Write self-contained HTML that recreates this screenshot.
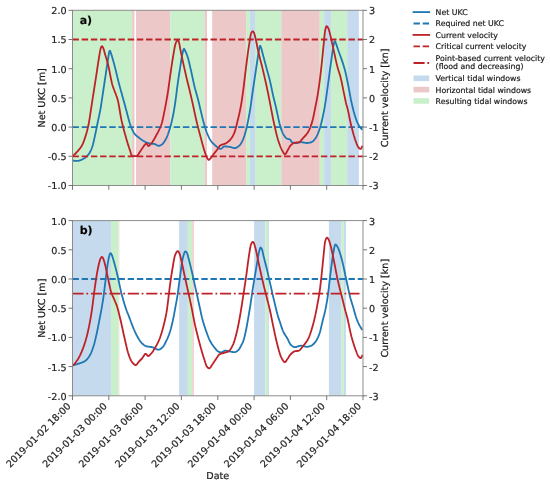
<!DOCTYPE html>
<html><head><meta charset="utf-8"><title>Tidal windows</title>
<style>html,body{margin:0;padding:0;background:#fff}svg{display:block}</style></head>
<body>
<svg width="550" height="486" viewBox="0 0 550 486" font-family='"DejaVu Sans","Liberation Sans",sans-serif' font-size="9.6" fill="#1c1c1c" text-rendering="geometricPrecision">
<style>text{stroke:#1c1c1c;stroke-width:0.2px}</style>
<rect width="550" height="486" fill="#fff"/>
<rect x="72.5" y="10.3" width="59.6" height="175.2" fill="#c9f0ca"/>
<rect x="132.1" y="10.3" width="2.3" height="175.2" fill="#ecc8c8"/>
<rect x="136.0" y="10.3" width="34.3" height="175.2" fill="#ecc8c8"/>
<rect x="170.3" y="10.3" width="34.2" height="175.2" fill="#c9f0ca"/>
<rect x="204.5" y="10.3" width="2.5" height="175.2" fill="#ecc8c8"/>
<rect x="212.2" y="10.3" width="33.9" height="175.2" fill="#ecc8c8"/>
<rect x="246.1" y="10.3" width="3.7" height="175.2" fill="#c9f0ca"/>
<rect x="249.8" y="10.3" width="5.2" height="175.2" fill="#c5dbed"/>
<rect x="255.0" y="10.3" width="26.3" height="175.2" fill="#c9f0ca"/>
<rect x="281.3" y="10.3" width="38.5" height="175.2" fill="#ecc8c8"/>
<rect x="319.8" y="10.3" width="4.3" height="175.2" fill="#c9f0ca"/>
<rect x="324.1" y="10.3" width="7.0" height="175.2" fill="#c5dbed"/>
<rect x="331.1" y="10.3" width="16.1" height="175.2" fill="#c9f0ca"/>
<rect x="347.2" y="10.3" width="11.7" height="175.2" fill="#c5dbed"/>
<rect x="72.5" y="220.6" width="38.5" height="175.2" fill="#c5dbed"/>
<rect x="111.0" y="220.6" width="7.8" height="175.2" fill="#c9f0ca"/>
<rect x="118.8" y="220.6" width="0.8" height="175.2" fill="#f9e6e6"/>
<rect x="179.1" y="220.6" width="8.8" height="175.2" fill="#c5dbed"/>
<rect x="187.9" y="220.6" width="4.2" height="175.2" fill="#c9f0ca"/>
<rect x="192.3" y="220.6" width="1.5" height="175.2" fill="#ecc8c8"/>
<rect x="254.1" y="220.6" width="11.2" height="175.2" fill="#c5dbed"/>
<rect x="265.3" y="220.6" width="2.8" height="175.2" fill="#c9f0ca"/>
<rect x="268.1" y="220.6" width="0.9" height="175.2" fill="#c5dbed"/>
<rect x="328.9" y="220.6" width="12.3" height="175.2" fill="#c5dbed"/>
<rect x="341.2" y="220.6" width="2.6" height="175.2" fill="#c9f0ca"/>
<rect x="343.8" y="220.6" width="2.1" height="175.2" fill="#c5dbed"/>
<g fill="none" stroke-width="1.8" stroke-linejoin="round">
<path d="M72.5,160.4 L73.0,160.5 L73.5,160.6 L74.0,160.7 L74.5,160.8 L75.0,160.8 L75.5,160.9 L76.0,160.9 L76.5,160.9 L77.0,160.9 L77.5,160.9 L78.0,160.9 L78.5,160.8 L79.0,160.7 L79.5,160.5 L80.0,160.4 L80.5,160.2 L81.0,160.0 L81.5,159.8 L82.0,159.5 L82.5,159.3 L83.0,159.0 L83.5,158.8 L84.0,158.5 L84.5,158.2 L85.0,157.9 L85.5,157.5 L86.0,157.1 L86.5,156.6 L87.0,156.1 L87.5,155.6 L88.0,155.0 L88.5,154.4 L89.0,153.7 L89.5,152.9 L90.0,152.1 L90.5,151.1 L91.0,150.0 L91.5,148.8 L92.0,147.5 L92.5,146.1 L93.0,144.4 L93.5,142.4 L94.0,140.2 L94.5,137.9 L95.0,135.6 L95.5,133.3 L96.0,130.9 L96.5,128.4 L97.0,125.8 L97.5,123.3 L98.0,120.9 L98.5,118.6 L99.0,116.4 L99.5,114.0 L100.0,111.6 L100.5,108.9 L101.0,105.9 L101.5,102.6 L102.0,99.3 L102.5,95.9 L103.0,92.5 L103.5,89.2 L104.0,85.9 L104.5,82.5 L105.0,79.2 L105.5,75.8 L106.0,72.5 L106.5,69.2 L107.0,65.9 L107.5,62.6 L108.0,59.5 L108.5,56.0 L109.0,53.0 L109.5,51.0 L110.0,50.7 L110.5,52.0 L111.0,53.4 L111.5,54.9 L112.0,56.5 L112.5,58.2 L113.0,59.9 L113.5,61.7 L114.0,63.5 L114.5,65.4 L115.0,67.4 L115.5,69.4 L116.0,71.4 L116.5,73.5 L117.0,75.6 L117.5,77.6 L118.0,79.7 L118.5,81.7 L119.0,83.7 L119.5,85.6 L120.0,87.4 L120.5,89.3 L121.0,91.1 L121.5,92.8 L122.0,94.6 L122.5,96.4 L123.0,98.2 L123.5,100.0 L124.0,101.8 L124.5,103.7 L125.0,105.6 L125.5,107.5 L126.0,109.3 L126.5,111.1 L127.0,113.0 L127.5,114.9 L128.0,116.8 L128.5,118.7 L129.0,120.5 L129.5,122.3 L130.0,123.9 L130.5,125.4 L131.0,126.7 L131.5,127.9 L132.0,129.1 L132.5,130.2 L133.0,131.2 L133.5,132.1 L134.0,133.0 L134.5,133.7 L135.0,134.3 L135.5,134.9 L136.0,135.3 L136.5,135.8 L137.0,136.2 L137.5,136.6 L138.0,136.9 L138.5,137.3 L139.0,137.7 L139.5,138.1 L140.0,138.5 L140.5,138.9 L141.0,139.2 L141.5,139.6 L142.0,140.0 L142.5,140.3 L143.0,140.7 L143.5,141.0 L144.0,141.2 L144.5,141.5 L145.0,141.8 L145.5,142.0 L146.0,142.3 L146.5,142.5 L147.0,142.7 L147.5,142.9 L148.0,143.1 L148.5,143.2 L149.0,143.4 L149.5,143.5 L150.0,143.5 L150.5,143.6 L151.0,143.6 L151.5,143.7 L152.0,143.7 L152.5,143.8 L153.0,143.8 L153.5,143.9 L154.0,143.9 L154.5,144.0 L155.0,144.2 L155.5,144.4 L156.0,144.7 L156.5,145.0 L157.0,145.3 L157.5,145.6 L158.0,145.7 L158.5,145.8 L159.0,145.8 L159.5,145.6 L160.0,145.5 L160.5,145.3 L161.0,145.0 L161.5,144.7 L162.0,144.4 L162.5,144.0 L163.0,143.5 L163.5,142.9 L164.0,142.2 L164.5,141.4 L165.0,140.6 L165.5,139.7 L166.0,138.8 L166.5,137.8 L167.0,136.7 L167.5,135.5 L168.0,134.2 L168.5,132.8 L169.0,131.3 L169.5,129.7 L170.0,128.0 L170.5,126.3 L171.0,124.4 L171.5,122.5 L172.0,120.3 L172.5,118.1 L173.0,115.7 L173.5,113.1 L174.0,110.4 L174.5,107.4 L175.0,104.1 L175.5,100.6 L176.0,97.0 L176.5,93.0 L177.0,88.8 L177.5,85.1 L178.0,81.6 L178.5,78.2 L179.0,75.0 L179.5,71.8 L180.0,68.6 L180.5,65.4 L181.0,62.0 L181.5,58.7 L182.0,55.8 L182.5,53.5 L183.0,51.3 L183.5,49.5 L184.0,48.8 L184.5,49.4 L185.0,50.5 L185.5,51.5 L186.0,52.6 L186.5,53.7 L187.0,55.0 L187.5,56.4 L188.0,58.0 L188.5,59.9 L189.0,61.9 L189.5,64.0 L190.0,66.2 L190.5,68.4 L191.0,70.5 L191.5,72.8 L192.0,75.1 L192.5,77.5 L193.0,79.8 L193.5,82.1 L194.0,84.4 L194.5,86.5 L195.0,88.5 L195.5,90.3 L196.0,92.1 L196.5,93.9 L197.0,95.6 L197.5,97.4 L198.0,99.2 L198.5,101.2 L199.0,103.3 L199.5,105.5 L200.0,107.7 L200.5,109.8 L201.0,111.9 L201.5,114.0 L202.0,116.1 L202.5,118.1 L203.0,120.1 L203.5,122.0 L204.0,123.8 L204.5,125.5 L205.0,127.2 L205.5,128.8 L206.0,130.4 L206.5,131.8 L207.0,133.1 L207.5,134.3 L208.0,135.4 L208.5,136.5 L209.0,137.6 L209.5,138.6 L210.0,139.5 L210.5,140.3 L211.0,141.0 L211.5,141.7 L212.0,142.3 L212.5,142.8 L213.0,143.4 L213.5,143.8 L214.0,144.3 L214.5,144.7 L215.0,145.2 L215.5,145.6 L216.0,146.0 L216.5,146.5 L217.0,146.9 L217.5,147.4 L218.0,147.8 L218.5,148.2 L219.0,148.5 L219.5,148.7 L220.0,148.9 L220.5,148.9 L221.0,148.8 L221.5,148.5 L222.0,148.1 L222.5,147.6 L223.0,147.2 L223.5,146.8 L224.0,146.5 L224.5,146.4 L225.0,146.4 L225.5,146.4 L226.0,146.5 L226.5,146.5 L227.0,146.6 L227.5,146.6 L228.0,146.7 L228.5,146.7 L229.0,146.8 L229.5,146.9 L230.0,146.9 L230.5,147.1 L231.0,147.2 L231.5,147.3 L232.0,147.5 L232.5,147.7 L233.0,147.8 L233.5,147.9 L234.0,148.0 L234.5,148.1 L235.0,148.1 L235.5,148.0 L236.0,147.9 L236.5,147.6 L237.0,147.4 L237.5,147.0 L238.0,146.7 L238.5,146.3 L239.0,145.8 L239.5,145.4 L240.0,144.9 L240.5,144.3 L241.0,143.5 L241.5,142.6 L242.0,141.7 L242.5,140.7 L243.0,139.6 L243.5,138.4 L244.0,137.0 L244.5,135.5 L245.0,133.8 L245.5,132.1 L246.0,130.3 L246.5,128.2 L247.0,126.0 L247.5,123.6 L248.0,121.2 L248.5,118.6 L249.0,116.0 L249.5,113.3 L250.0,110.4 L250.5,107.1 L251.0,103.6 L251.5,100.0 L252.0,96.5 L252.5,93.0 L253.0,89.5 L253.5,86.1 L254.0,82.7 L254.5,79.4 L255.0,76.1 L255.5,72.8 L256.0,69.4 L256.5,66.0 L257.0,62.7 L257.5,59.3 L258.0,55.9 L258.5,52.7 L259.0,50.0 L259.5,47.4 L260.0,45.8 L260.5,46.2 L261.0,47.5 L261.5,49.1 L262.0,51.0 L262.5,53.0 L263.0,54.9 L263.5,56.8 L264.0,58.6 L264.5,60.5 L265.0,62.4 L265.5,64.3 L266.0,66.2 L266.5,68.1 L267.0,69.9 L267.5,71.7 L268.0,73.5 L268.5,75.3 L269.0,77.2 L269.5,79.1 L270.0,81.1 L270.5,83.3 L271.0,85.6 L271.5,88.0 L272.0,90.4 L272.5,92.8 L273.0,95.1 L273.5,97.2 L274.0,99.3 L274.5,101.3 L275.0,103.3 L275.5,105.3 L276.0,107.4 L276.5,109.7 L277.0,112.0 L277.5,114.4 L278.0,116.8 L278.5,119.1 L279.0,121.3 L279.5,123.4 L280.0,125.2 L280.5,126.9 L281.0,128.4 L281.5,129.9 L282.0,131.3 L282.5,132.5 L283.0,133.6 L283.5,134.6 L284.0,135.4 L284.5,136.1 L285.0,136.8 L285.5,137.4 L286.0,137.9 L286.5,138.3 L287.0,138.6 L287.5,138.8 L288.0,139.0 L288.5,139.1 L289.0,139.2 L289.5,139.4 L290.0,139.6 L290.5,139.9 L291.0,140.9 L291.5,141.9 L292.0,142.2 L292.5,142.5 L293.0,142.7 L293.5,142.9 L294.0,143.0 L294.5,143.1 L295.0,143.2 L295.5,143.2 L296.0,143.2 L296.5,143.1 L297.0,143.0 L297.5,142.9 L298.0,142.8 L298.5,142.6 L299.0,142.5 L299.5,142.4 L300.0,142.3 L300.5,142.2 L301.0,142.2 L301.5,142.2 L302.0,142.3 L302.5,142.3 L303.0,142.4 L303.5,142.5 L304.0,142.6 L304.5,142.7 L305.0,142.8 L305.5,142.9 L306.0,142.9 L306.5,143.0 L307.0,143.0 L307.5,143.0 L308.0,142.9 L308.5,142.9 L309.0,142.8 L309.5,142.7 L310.0,142.6 L310.5,142.4 L311.0,142.3 L311.5,142.1 L312.0,141.9 L312.5,141.6 L313.0,141.2 L313.5,140.7 L314.0,140.1 L314.5,139.6 L315.0,138.9 L315.5,138.3 L316.0,137.6 L316.5,136.7 L317.0,135.7 L317.5,134.6 L318.0,133.4 L318.5,132.1 L319.0,130.7 L319.5,129.3 L320.0,127.8 L320.5,126.1 L321.0,124.3 L321.5,122.3 L322.0,120.2 L322.5,118.0 L323.0,115.8 L323.5,113.4 L324.0,110.8 L324.5,108.1 L325.0,105.2 L325.5,102.1 L326.0,98.8 L326.5,95.3 L327.0,91.6 L327.5,88.0 L328.0,84.4 L328.5,80.8 L329.0,77.1 L329.5,73.4 L330.0,69.7 L330.5,66.1 L331.0,62.5 L331.5,58.8 L332.0,55.0 L332.5,51.5 L333.0,48.3 L333.5,45.7 L334.0,43.2 L334.5,41.4 L335.0,41.1 L335.5,42.2 L336.0,43.5 L336.5,44.9 L337.0,46.4 L337.5,48.0 L338.0,49.5 L338.5,50.9 L339.0,52.3 L339.5,53.6 L340.0,55.0 L340.5,56.3 L341.0,57.7 L341.5,59.1 L342.0,60.6 L342.5,62.1 L343.0,63.6 L343.5,65.2 L344.0,66.9 L344.5,68.6 L345.0,70.4 L345.5,72.4 L346.0,74.6 L346.5,76.9 L347.0,79.3 L347.5,81.8 L348.0,84.3 L348.5,86.8 L349.0,89.3 L349.5,92.0 L350.0,94.8 L350.5,97.4 L351.0,100.0 L351.5,102.3 L352.0,104.5 L352.5,106.7 L353.0,108.7 L353.5,110.7 L354.0,112.5 L354.5,114.3 L355.0,115.9 L355.5,117.5 L356.0,119.0 L356.5,120.4 L357.0,121.7 L357.5,122.9 L358.0,123.9 L358.5,124.8 L359.0,125.7 L359.5,126.4 L360.0,127.1 L360.5,127.7 L361.0,128.3 L361.5,128.8 L362.0,129.3 L362.5,129.7" stroke="#1f77b4"/>
<path d="M72.5,127.1 H363.0" stroke="#1f77b4" stroke-dasharray="6.4 2.8"/>
<path d="M72.5,156.1 L73.0,155.7 L73.5,155.3 L74.0,154.9 L74.5,154.4 L75.0,154.0 L75.5,153.5 L76.0,153.0 L76.5,152.5 L77.0,151.9 L77.5,151.4 L78.0,150.8 L78.5,150.2 L79.0,149.7 L79.5,149.0 L80.0,148.4 L80.5,147.7 L81.0,147.0 L81.5,146.2 L82.0,145.3 L82.5,144.4 L83.0,143.4 L83.5,142.2 L84.0,140.8 L84.5,139.4 L85.0,137.9 L85.5,136.3 L86.0,134.7 L86.5,133.0 L87.0,131.2 L87.5,129.2 L88.0,127.1 L88.5,124.8 L89.0,122.1 L89.5,119.1 L90.0,115.9 L90.5,112.6 L91.0,109.4 L91.5,106.2 L92.0,102.9 L92.5,99.7 L93.0,96.4 L93.5,93.2 L94.0,90.0 L94.5,86.7 L95.0,83.5 L95.5,80.3 L96.0,77.1 L96.5,73.9 L97.0,70.5 L97.5,67.2 L98.0,63.8 L98.5,60.6 L99.0,57.5 L99.5,54.7 L100.0,51.7 L100.5,49.1 L101.0,47.4 L101.5,46.5 L102.0,46.2 L102.5,46.7 L103.0,47.5 L103.5,48.7 L104.0,50.3 L104.5,52.2 L105.0,54.0 L105.5,55.7 L106.0,57.3 L106.5,58.9 L107.0,60.6 L107.5,62.4 L108.0,64.3 L108.5,66.4 L109.0,68.7 L109.5,71.2 L110.0,73.9 L110.5,76.5 L111.0,79.0 L111.5,81.3 L112.0,83.5 L112.5,85.2 L113.0,86.7 L113.5,88.1 L114.0,89.5 L114.5,90.8 L115.0,92.1 L115.5,93.3 L116.0,94.7 L116.5,96.1 L117.0,97.4 L117.5,99.0 L118.0,100.9 L118.5,103.3 L119.0,106.0 L119.5,109.0 L120.0,112.0 L120.5,115.0 L121.0,117.7 L121.5,120.2 L122.0,122.4 L122.5,124.5 L123.0,126.5 L123.5,128.5 L124.0,130.4 L124.5,132.2 L125.0,134.1 L125.5,135.8 L126.0,137.6 L126.5,139.4 L127.0,141.1 L127.5,142.7 L128.0,144.4 L128.5,145.9 L129.0,147.5 L129.5,148.9 L130.0,150.4 L130.5,152.1 L131.0,153.7 L131.5,155.1 L132.0,155.9 L132.5,156.1 L133.0,156.1 L133.5,156.1 L134.0,156.1 L134.5,156.1 L135.0,156.1 L135.5,156.1 L136.0,156.1 L136.5,156.1 L137.0,155.9 L137.5,155.5 L138.0,154.9 L138.5,154.2 L139.0,153.3 L139.5,152.5 L140.0,151.7 L140.5,150.9 L141.0,150.2 L141.5,149.5 L142.0,148.7 L142.5,147.9 L143.0,147.2 L143.5,146.4 L144.0,145.7 L144.5,145.1 L145.0,144.6 L145.5,144.0 L146.0,143.6 L146.5,143.4 L147.0,143.9 L147.5,145.0 L148.0,145.9 L148.5,146.0 L149.0,145.7 L149.5,145.4 L150.0,144.9 L150.5,144.3 L151.0,143.7 L151.5,143.2 L152.0,142.6 L152.5,141.9 L153.0,141.1 L153.5,140.3 L154.0,139.5 L154.5,138.6 L155.0,137.7 L155.5,136.8 L156.0,135.8 L156.5,134.9 L157.0,134.0 L157.5,133.1 L158.0,132.2 L158.5,131.2 L159.0,130.2 L159.5,129.2 L160.0,128.0 L160.5,126.8 L161.0,125.5 L161.5,124.1 L162.0,122.5 L162.5,120.5 L163.0,118.3 L163.5,115.9 L164.0,113.4 L164.5,110.9 L165.0,108.4 L165.5,105.9 L166.0,103.2 L166.5,100.4 L167.0,97.5 L167.5,94.5 L168.0,91.3 L168.5,88.0 L169.0,84.5 L169.5,80.9 L170.0,77.2 L170.5,73.7 L171.0,70.2 L171.5,66.7 L172.0,63.3 L172.5,60.0 L173.0,57.0 L173.5,54.1 L174.0,51.1 L174.5,48.3 L175.0,45.8 L175.5,43.9 L176.0,42.5 L176.5,41.4 L177.0,40.5 L177.5,40.0 L178.0,40.3 L178.5,41.2 L179.0,42.5 L179.5,44.6 L180.0,47.6 L180.5,50.2 L181.0,52.6 L181.5,55.0 L182.0,57.4 L182.5,59.8 L183.0,62.1 L183.5,64.4 L184.0,66.7 L184.5,68.9 L185.0,71.1 L185.5,73.3 L186.0,75.5 L186.5,77.6 L187.0,79.7 L187.5,81.7 L188.0,83.8 L188.5,85.8 L189.0,87.8 L189.5,89.9 L190.0,92.0 L190.5,94.1 L191.0,96.2 L191.5,98.4 L192.0,100.6 L192.5,102.8 L193.0,105.0 L193.5,107.3 L194.0,109.7 L194.5,112.1 L195.0,114.4 L195.5,116.7 L196.0,118.9 L196.5,121.0 L197.0,123.1 L197.5,125.1 L198.0,127.1 L198.5,129.1 L199.0,131.0 L199.5,132.9 L200.0,134.8 L200.5,136.7 L201.0,138.6 L201.5,140.4 L202.0,142.3 L202.5,144.2 L203.0,146.0 L203.5,147.8 L204.0,149.5 L204.5,151.1 L205.0,152.6 L205.5,154.0 L206.0,155.4 L206.5,156.6 L207.0,157.7 L207.5,158.5 L208.0,159.4 L208.5,159.9 L209.0,159.9 L209.5,159.5 L210.0,158.9 L210.5,158.4 L211.0,157.8 L211.5,157.1 L212.0,156.4 L212.5,155.7 L213.0,155.0 L213.5,154.3 L214.0,153.7 L214.5,153.0 L215.0,152.4 L215.5,151.8 L216.0,151.2 L216.5,150.5 L217.0,149.9 L217.5,149.2 L218.0,148.5 L218.5,147.7 L219.0,147.0 L219.5,146.3 L220.0,145.7 L220.5,145.3 L221.0,145.1 L221.5,144.8 L222.0,144.6 L222.5,144.5 L223.0,144.3 L223.5,144.2 L224.0,144.0 L224.5,143.9 L225.0,143.7 L225.5,143.5 L226.0,143.2 L226.5,142.9 L227.0,142.6 L227.5,142.2 L228.0,141.8 L228.5,141.4 L229.0,141.0 L229.5,140.5 L230.0,140.0 L230.5,139.4 L231.0,138.8 L231.5,138.1 L232.0,137.4 L232.5,136.6 L233.0,135.7 L233.5,134.7 L234.0,133.7 L234.5,132.4 L235.0,130.9 L235.5,129.2 L236.0,127.3 L236.5,125.4 L237.0,123.4 L237.5,121.3 L238.0,119.3 L238.5,117.2 L239.0,115.1 L239.5,112.9 L240.0,110.5 L240.5,108.0 L241.0,105.3 L241.5,102.3 L242.0,99.1 L242.5,95.6 L243.0,92.0 L243.5,88.2 L244.0,84.1 L244.5,79.9 L245.0,75.7 L245.5,71.5 L246.0,67.5 L246.5,63.6 L247.0,59.7 L247.5,55.9 L248.0,52.2 L248.5,48.7 L249.0,45.4 L249.5,42.2 L250.0,38.9 L250.5,35.8 L251.0,33.6 L251.5,32.5 L252.0,31.8 L252.5,31.3 L253.0,31.4 L253.5,32.0 L254.0,32.8 L254.5,34.2 L255.0,36.2 L255.5,38.3 L256.0,40.5 L256.5,42.8 L257.0,45.2 L257.5,47.7 L258.0,50.0 L258.5,52.3 L259.0,54.4 L259.5,56.5 L260.0,58.5 L260.5,60.4 L261.0,62.4 L261.5,64.3 L262.0,66.3 L262.5,68.4 L263.0,70.5 L263.5,72.6 L264.0,74.8 L264.5,76.9 L265.0,79.1 L265.5,81.3 L266.0,83.5 L266.5,85.8 L267.0,88.1 L267.5,90.5 L268.0,92.8 L268.5,95.3 L269.0,97.9 L269.5,100.4 L270.0,103.0 L270.5,105.6 L271.0,108.2 L271.5,110.8 L272.0,113.4 L272.5,116.0 L273.0,118.6 L273.5,121.0 L274.0,123.3 L274.5,125.6 L275.0,127.8 L275.5,130.0 L276.0,132.1 L276.5,134.2 L277.0,136.1 L277.5,138.0 L278.0,139.7 L278.5,141.2 L279.0,142.7 L279.5,144.1 L280.0,145.5 L280.5,146.8 L281.0,148.0 L281.5,149.1 L282.0,150.1 L282.5,151.0 L283.0,151.9 L283.5,152.8 L284.0,153.6 L284.5,154.1 L285.0,154.3 L285.5,154.0 L286.0,153.4 L286.5,152.5 L287.0,151.5 L287.5,150.6 L288.0,149.8 L288.5,148.8 L289.0,147.9 L289.5,146.9 L290.0,146.1 L290.5,145.5 L291.0,145.0 L291.5,144.6 L292.0,144.1 L292.5,143.8 L293.0,143.4 L293.5,143.1 L294.0,142.9 L294.5,142.7 L295.0,142.7 L295.5,142.6 L296.0,142.6 L296.5,142.5 L297.0,142.5 L297.5,142.5 L298.0,142.4 L298.5,142.3 L299.0,142.2 L299.5,142.0 L300.0,141.6 L300.5,141.1 L301.0,140.5 L301.5,139.9 L302.0,139.3 L302.5,138.7 L303.0,138.1 L303.5,137.6 L304.0,137.0 L304.5,136.5 L305.0,136.0 L305.5,135.5 L306.0,134.9 L306.5,134.3 L307.0,133.6 L307.5,132.9 L308.0,132.2 L308.5,131.3 L309.0,130.3 L309.5,129.3 L310.0,128.1 L310.5,126.8 L311.0,125.4 L311.5,123.9 L312.0,122.4 L312.5,120.6 L313.0,118.6 L313.5,116.3 L314.0,113.9 L314.5,111.3 L315.0,108.8 L315.5,106.3 L316.0,103.9 L316.5,101.3 L317.0,98.7 L317.5,95.8 L318.0,92.8 L318.5,89.5 L319.0,86.1 L319.5,82.5 L320.0,78.6 L320.5,74.5 L321.0,70.2 L321.5,65.8 L322.0,61.1 L322.5,56.2 L323.0,51.1 L323.5,46.2 L324.0,40.8 L324.5,35.3 L325.0,31.2 L325.5,28.9 L326.0,27.1 L326.5,26.2 L327.0,26.4 L327.5,26.9 L328.0,27.7 L328.5,28.6 L329.0,30.2 L329.5,32.1 L330.0,33.9 L330.5,35.9 L331.0,38.1 L331.5,40.3 L332.0,42.6 L332.5,44.9 L333.0,47.1 L333.5,49.4 L334.0,51.7 L334.5,54.0 L335.0,56.4 L335.5,58.7 L336.0,60.9 L336.5,63.1 L337.0,65.1 L337.5,67.0 L338.0,68.7 L338.5,70.4 L339.0,72.0 L339.5,73.6 L340.0,75.3 L340.5,77.1 L341.0,79.1 L341.5,81.3 L342.0,83.6 L342.5,86.1 L343.0,88.6 L343.5,91.1 L344.0,93.5 L344.5,95.9 L345.0,98.3 L345.5,100.7 L346.0,103.0 L346.5,105.0 L347.0,106.6 L347.5,108.5 L348.0,110.6 L348.5,112.8 L349.0,115.2 L349.5,117.7 L350.0,120.1 L350.5,122.5 L351.0,124.7 L351.5,126.7 L352.0,128.6 L352.5,130.6 L353.0,132.4 L353.5,134.2 L354.0,136.0 L354.5,137.6 L355.0,139.2 L355.5,140.6 L356.0,142.0 L356.5,143.4 L357.0,144.7 L357.5,145.9 L358.0,146.8 L358.5,147.5 L359.0,148.0 L359.5,148.5 L360.0,148.8 L360.5,148.9 L361.0,148.7 L361.5,148.0 L362.0,147.0 L362.5,145.7" stroke="#be2228"/>
<path d="M72.5,39.5 H363.0" stroke="#be2228" stroke-dasharray="6.4 2.8"/>
<path d="M72.5,156.3 H363.0" stroke="#be2228" stroke-dasharray="6.4 2.8"/>
<path d="M72.5,365.3 L73.0,365.2 L73.5,365.1 L74.0,365.0 L74.5,364.9 L75.0,364.7 L75.5,364.6 L76.0,364.5 L76.5,364.3 L77.0,364.2 L77.5,364.0 L78.0,363.9 L78.5,363.7 L79.0,363.6 L79.5,363.4 L80.0,363.2 L80.5,363.1 L81.0,362.9 L81.5,362.7 L82.0,362.5 L82.5,362.3 L83.0,362.1 L83.5,361.9 L84.0,361.6 L84.5,361.4 L85.0,361.1 L85.5,360.7 L86.0,360.3 L86.5,359.9 L87.0,359.3 L87.5,358.7 L88.0,358.1 L88.5,357.4 L89.0,356.7 L89.5,355.9 L90.0,355.1 L90.5,354.1 L91.0,353.1 L91.5,351.9 L92.0,350.6 L92.5,349.2 L93.0,347.8 L93.5,346.3 L94.0,344.7 L94.5,342.9 L95.0,340.9 L95.5,338.8 L96.0,336.6 L96.5,334.4 L97.0,332.2 L97.5,329.8 L98.0,327.3 L98.5,324.7 L99.0,322.1 L99.5,319.5 L100.0,317.0 L100.5,314.4 L101.0,311.8 L101.5,309.0 L102.0,306.2 L102.5,303.2 L103.0,300.0 L103.5,296.6 L104.0,292.8 L104.5,288.8 L105.0,284.6 L105.5,280.5 L106.0,276.7 L106.5,272.9 L107.0,269.0 L107.5,265.2 L108.0,261.8 L108.5,259.1 L109.0,257.0 L109.5,255.1 L110.0,253.7 L110.5,253.1 L111.0,253.5 L111.5,254.3 L112.0,255.4 L112.5,256.9 L113.0,258.5 L113.5,260.2 L114.0,261.9 L114.5,263.7 L115.0,265.6 L115.5,267.5 L116.0,269.4 L116.5,271.4 L117.0,273.5 L117.5,275.5 L118.0,277.7 L118.5,280.0 L119.0,282.4 L119.5,284.8 L120.0,287.1 L120.5,289.4 L121.0,291.6 L121.5,293.6 L122.0,295.5 L122.5,297.3 L123.0,299.1 L123.5,300.9 L124.0,302.6 L124.5,304.2 L125.0,305.8 L125.5,307.4 L126.0,308.8 L126.5,310.3 L127.0,311.6 L127.5,312.8 L128.0,314.0 L128.5,315.3 L129.0,316.6 L129.5,317.9 L130.0,319.3 L130.5,320.6 L131.0,322.0 L131.5,323.3 L132.0,324.6 L132.5,325.9 L133.0,327.1 L133.5,328.3 L134.0,329.5 L134.5,330.6 L135.0,331.8 L135.5,332.9 L136.0,334.0 L136.5,335.0 L137.0,335.9 L137.5,336.8 L138.0,337.7 L138.5,338.5 L139.0,339.4 L139.5,340.2 L140.0,340.9 L140.5,341.6 L141.0,342.2 L141.5,342.8 L142.0,343.3 L142.5,343.8 L143.0,344.2 L143.5,344.7 L144.0,345.1 L144.5,345.4 L145.0,345.7 L145.5,346.0 L146.0,346.2 L146.5,346.3 L147.0,346.4 L147.5,346.5 L148.0,346.6 L148.5,346.6 L149.0,346.7 L149.5,346.8 L150.0,346.8 L150.5,346.9 L151.0,347.0 L151.5,347.0 L152.0,347.1 L152.5,347.3 L153.0,347.4 L153.5,347.6 L154.0,347.9 L154.5,348.1 L155.0,348.4 L155.5,348.7 L156.0,348.9 L156.5,349.2 L157.0,349.4 L157.5,349.6 L158.0,349.7 L158.5,349.7 L159.0,349.6 L159.5,349.5 L160.0,349.3 L160.5,348.9 L161.0,348.6 L161.5,348.2 L162.0,347.7 L162.5,347.3 L163.0,346.8 L163.5,346.1 L164.0,345.4 L164.5,344.5 L165.0,343.5 L165.5,342.5 L166.0,341.5 L166.5,340.4 L167.0,339.4 L167.5,338.3 L168.0,337.1 L168.5,335.9 L169.0,334.6 L169.5,333.2 L170.0,331.7 L170.5,330.1 L171.0,328.3 L171.5,326.3 L172.0,324.3 L172.5,322.1 L173.0,319.9 L173.5,317.5 L174.0,314.9 L174.5,312.2 L175.0,309.4 L175.5,306.6 L176.0,303.9 L176.5,301.3 L177.0,298.5 L177.5,295.4 L178.0,291.9 L178.5,288.2 L179.0,284.4 L179.5,280.5 L180.0,276.8 L180.5,273.3 L181.0,269.6 L181.5,265.8 L182.0,262.4 L182.5,259.5 L183.0,257.4 L183.5,255.6 L184.0,253.9 L184.5,252.5 L185.0,251.6 L185.5,251.4 L186.0,251.7 L186.5,252.3 L187.0,253.0 L187.5,254.3 L188.0,256.2 L188.5,258.2 L189.0,260.1 L189.5,262.0 L190.0,264.0 L190.5,266.0 L191.0,268.1 L191.5,270.2 L192.0,272.3 L192.5,274.5 L193.0,276.7 L193.5,279.0 L194.0,281.3 L194.5,283.6 L195.0,285.9 L195.5,288.2 L196.0,290.5 L196.5,292.7 L197.0,294.9 L197.5,297.2 L198.0,299.4 L198.5,301.7 L199.0,304.0 L199.5,306.2 L200.0,308.5 L200.5,310.9 L201.0,313.3 L201.5,315.6 L202.0,317.7 L202.5,319.6 L203.0,321.4 L203.5,323.1 L204.0,324.7 L204.5,326.3 L205.0,327.8 L205.5,329.3 L206.0,330.7 L206.5,332.1 L207.0,333.5 L207.5,334.9 L208.0,336.2 L208.5,337.5 L209.0,338.7 L209.5,339.8 L210.0,340.8 L210.5,341.7 L211.0,342.6 L211.5,343.4 L212.0,344.2 L212.5,344.9 L213.0,345.6 L213.5,346.3 L214.0,347.0 L214.5,347.6 L215.0,348.2 L215.5,348.8 L216.0,349.5 L216.5,350.0 L217.0,350.6 L217.5,351.0 L218.0,351.4 L218.5,351.6 L219.0,351.9 L219.5,352.1 L220.0,352.2 L220.5,352.4 L221.0,352.4 L221.5,352.3 L222.0,352.2 L222.5,351.9 L223.0,351.6 L223.5,351.3 L224.0,351.0 L224.5,350.8 L225.0,350.6 L225.5,350.6 L226.0,350.6 L226.5,350.7 L227.0,350.8 L227.5,350.9 L228.0,351.0 L228.5,351.1 L229.0,351.3 L229.5,351.4 L230.0,351.5 L230.5,351.6 L231.0,351.7 L231.5,351.8 L232.0,351.9 L232.5,352.0 L233.0,352.1 L233.5,352.2 L234.0,352.2 L234.5,352.2 L235.0,352.1 L235.5,352.0 L236.0,351.8 L236.5,351.5 L237.0,351.2 L237.5,350.8 L238.0,350.4 L238.5,350.0 L239.0,349.4 L239.5,348.7 L240.0,347.8 L240.5,346.8 L241.0,345.8 L241.5,344.8 L242.0,343.9 L242.5,342.9 L243.0,341.8 L243.5,340.4 L244.0,338.8 L244.5,336.9 L245.0,334.8 L245.5,332.5 L246.0,330.2 L246.5,327.7 L247.0,325.1 L247.5,322.2 L248.0,319.3 L248.5,316.4 L249.0,313.5 L249.5,310.5 L250.0,307.4 L250.5,304.3 L251.0,301.0 L251.5,297.6 L252.0,294.1 L252.5,290.6 L253.0,287.3 L253.5,284.2 L254.0,281.3 L254.5,278.4 L255.0,275.5 L255.5,272.5 L256.0,269.4 L256.5,266.4 L257.0,263.4 L257.5,260.4 L258.0,257.3 L258.5,254.4 L259.0,252.1 L259.5,250.0 L260.0,248.2 L260.5,247.5 L261.0,247.8 L261.5,248.5 L262.0,249.5 L262.5,251.1 L263.0,253.4 L263.5,255.8 L264.0,257.8 L264.5,259.8 L265.0,261.7 L265.5,263.7 L266.0,265.7 L266.5,267.7 L267.0,269.8 L267.5,271.9 L268.0,274.1 L268.5,276.3 L269.0,278.5 L269.5,280.7 L270.0,282.9 L270.5,285.1 L271.0,287.3 L271.5,289.5 L272.0,291.7 L272.5,293.9 L273.0,296.1 L273.5,298.2 L274.0,300.3 L274.5,302.4 L275.0,304.5 L275.5,306.6 L276.0,308.7 L276.5,310.7 L277.0,312.7 L277.5,314.6 L278.0,316.3 L278.5,317.9 L279.0,319.4 L279.5,320.8 L280.0,322.3 L280.5,323.8 L281.0,325.4 L281.5,326.9 L282.0,328.4 L282.5,329.8 L283.0,331.0 L283.5,332.1 L284.0,333.1 L284.5,333.9 L285.0,334.7 L285.5,335.5 L286.0,336.3 L286.5,337.0 L287.0,337.8 L287.5,338.7 L288.0,339.7 L288.5,340.7 L289.0,341.8 L289.5,342.8 L290.0,343.7 L290.5,344.5 L291.0,345.0 L291.5,345.4 L292.0,345.9 L292.5,346.3 L293.0,346.6 L293.5,346.9 L294.0,347.1 L294.5,347.2 L295.0,347.2 L295.5,347.1 L296.0,347.0 L296.5,346.9 L297.0,346.7 L297.5,346.6 L298.0,346.4 L298.5,346.2 L299.0,346.0 L299.5,345.9 L300.0,345.8 L300.5,345.7 L301.0,345.7 L301.5,345.7 L302.0,345.8 L302.5,345.9 L303.0,346.0 L303.5,346.1 L304.0,346.3 L304.5,346.4 L305.0,346.5 L305.5,346.6 L306.0,346.7 L306.5,346.8 L307.0,346.8 L307.5,346.8 L308.0,346.7 L308.5,346.6 L309.0,346.5 L309.5,346.3 L310.0,346.2 L310.5,346.0 L311.0,345.8 L311.5,345.6 L312.0,345.3 L312.5,344.9 L313.0,344.5 L313.5,344.0 L314.0,343.5 L314.5,343.0 L315.0,342.4 L315.5,341.7 L316.0,341.0 L316.5,340.2 L317.0,339.3 L317.5,338.3 L318.0,337.3 L318.5,336.1 L319.0,334.9 L319.5,333.5 L320.0,331.9 L320.5,330.0 L321.0,327.9 L321.5,325.8 L322.0,323.6 L322.5,321.5 L323.0,319.5 L323.5,317.6 L324.0,315.7 L324.5,313.6 L325.0,311.5 L325.5,309.1 L326.0,306.6 L326.5,303.9 L327.0,301.1 L327.5,298.0 L328.0,294.5 L328.5,290.4 L329.0,286.1 L329.5,281.7 L330.0,277.5 L330.5,273.5 L331.0,269.4 L331.5,265.3 L332.0,261.5 L332.5,258.0 L333.0,255.0 L333.5,252.0 L334.0,249.0 L334.5,246.5 L335.0,244.9 L335.5,244.4 L336.0,244.7 L336.5,245.3 L337.0,246.0 L337.5,246.8 L338.0,247.8 L338.5,249.0 L339.0,250.3 L339.5,251.6 L340.0,253.2 L340.5,254.8 L341.0,256.6 L341.5,258.4 L342.0,260.3 L342.5,262.3 L343.0,264.4 L343.5,266.6 L344.0,269.0 L344.5,271.3 L345.0,273.7 L345.5,276.0 L346.0,278.3 L346.5,280.6 L347.0,283.0 L347.5,285.3 L348.0,287.7 L348.5,290.0 L349.0,292.3 L349.5,294.5 L350.0,296.5 L350.5,298.4 L351.0,300.1 L351.5,301.8 L352.0,303.4 L352.5,305.0 L353.0,306.6 L353.5,308.3 L354.0,310.2 L354.5,312.0 L355.0,313.8 L355.5,315.5 L356.0,317.1 L356.5,318.5 L357.0,319.9 L357.5,321.1 L358.0,322.3 L358.5,323.4 L359.0,324.5 L359.5,325.4 L360.0,326.3 L360.5,327.1 L361.0,327.9 L361.5,328.7 L362.0,329.4 L362.5,330.0" stroke="#1f77b4"/>
<path d="M72.5,279.0 H363.0" stroke="#1f77b4" stroke-dasharray="6.4 2.8"/>
<path d="M72.5,365.7 L73.0,365.3 L73.5,364.9 L74.0,364.4 L74.5,363.8 L75.0,363.3 L75.5,362.7 L76.0,362.0 L76.5,361.3 L77.0,360.6 L77.5,359.9 L78.0,359.1 L78.5,358.3 L79.0,357.4 L79.5,356.4 L80.0,355.4 L80.5,354.3 L81.0,353.2 L81.5,352.1 L82.0,350.9 L82.5,349.7 L83.0,348.4 L83.5,347.0 L84.0,345.6 L84.5,344.1 L85.0,342.5 L85.5,340.9 L86.0,339.1 L86.5,337.4 L87.0,335.5 L87.5,333.5 L88.0,331.3 L88.5,329.0 L89.0,326.6 L89.5,324.1 L90.0,321.5 L90.5,318.7 L91.0,315.8 L91.5,312.6 L92.0,309.3 L92.5,305.6 L93.0,301.6 L93.5,297.7 L94.0,293.9 L94.5,290.0 L95.0,286.3 L95.5,282.8 L96.0,279.5 L96.5,276.4 L97.0,273.4 L97.5,270.6 L98.0,268.0 L98.5,265.7 L99.0,263.6 L99.5,261.7 L100.0,259.9 L100.5,258.6 L101.0,257.7 L101.5,257.0 L102.0,256.8 L102.5,257.3 L103.0,258.1 L103.5,259.2 L104.0,260.7 L104.5,262.5 L105.0,264.4 L105.5,266.4 L106.0,268.7 L106.5,271.1 L107.0,273.6 L107.5,276.0 L108.0,278.3 L108.5,280.6 L109.0,283.0 L109.5,285.3 L110.0,287.6 L110.5,289.7 L111.0,291.6 L111.5,293.1 L112.0,294.4 L112.5,295.6 L113.0,296.7 L113.5,297.8 L114.0,298.9 L114.5,300.1 L115.0,301.3 L115.5,302.4 L116.0,303.6 L116.5,304.9 L117.0,306.3 L117.5,307.9 L118.0,309.7 L118.5,311.6 L119.0,313.6 L119.5,315.7 L120.0,317.7 L120.5,319.8 L121.0,322.0 L121.5,324.2 L122.0,326.5 L122.5,328.8 L123.0,331.2 L123.5,333.5 L124.0,335.7 L124.5,337.9 L125.0,340.1 L125.5,342.3 L126.0,344.5 L126.5,346.6 L127.0,348.7 L127.5,350.7 L128.0,352.5 L128.5,354.1 L129.0,355.6 L129.5,357.0 L130.0,358.3 L130.5,359.5 L131.0,360.5 L131.5,361.3 L132.0,362.0 L132.5,362.6 L133.0,363.2 L133.5,363.8 L134.0,364.2 L134.5,364.6 L135.0,364.9 L135.5,365.1 L136.0,365.1 L136.5,364.8 L137.0,364.2 L137.5,363.5 L138.0,362.8 L138.5,362.1 L139.0,361.5 L139.5,361.0 L140.0,360.5 L140.5,360.0 L141.0,359.5 L141.5,359.0 L142.0,358.5 L142.5,357.8 L143.0,357.1 L143.5,356.2 L144.0,355.4 L144.5,354.7 L145.0,354.1 L145.5,353.8 L146.0,353.9 L146.5,354.3 L147.0,355.0 L147.5,355.6 L148.0,356.0 L148.5,356.0 L149.0,355.7 L149.5,355.3 L150.0,354.9 L150.5,354.3 L151.0,353.7 L151.5,353.2 L152.0,352.6 L152.5,351.9 L153.0,351.2 L153.5,350.4 L154.0,349.6 L154.5,348.7 L155.0,347.9 L155.5,347.0 L156.0,346.2 L156.5,345.3 L157.0,344.3 L157.5,343.4 L158.0,342.4 L158.5,341.3 L159.0,340.2 L159.5,339.0 L160.0,337.7 L160.5,336.3 L161.0,334.8 L161.5,333.2 L162.0,331.5 L162.5,329.7 L163.0,327.9 L163.5,326.0 L164.0,324.0 L164.5,322.0 L165.0,319.8 L165.5,317.5 L166.0,315.1 L166.5,312.4 L167.0,309.3 L167.5,305.5 L168.0,301.6 L168.5,297.4 L169.0,293.1 L169.5,288.9 L170.0,285.0 L170.5,281.4 L171.0,277.9 L171.5,274.6 L172.0,271.5 L172.5,268.5 L173.0,265.5 L173.5,262.4 L174.0,259.6 L174.5,257.1 L175.0,255.4 L175.5,254.2 L176.0,253.1 L176.5,252.2 L177.0,251.5 L177.5,251.1 L178.0,251.1 L178.5,251.6 L179.0,252.5 L179.5,253.5 L180.0,254.9 L180.5,256.9 L181.0,259.0 L181.5,261.1 L182.0,263.3 L182.5,265.7 L183.0,268.0 L183.5,270.5 L184.0,272.8 L184.5,275.2 L185.0,277.4 L185.5,279.7 L186.0,281.9 L186.5,284.2 L187.0,286.4 L187.5,288.7 L188.0,290.9 L188.5,293.2 L189.0,295.5 L189.5,297.8 L190.0,300.1 L190.5,302.4 L191.0,304.7 L191.5,307.1 L192.0,309.6 L192.5,312.2 L193.0,314.9 L193.5,317.5 L194.0,320.1 L194.5,322.6 L195.0,324.9 L195.5,327.1 L196.0,329.2 L196.5,331.3 L197.0,333.3 L197.5,335.3 L198.0,337.3 L198.5,339.2 L199.0,341.1 L199.5,343.0 L200.0,344.8 L200.5,346.7 L201.0,348.5 L201.5,350.3 L202.0,352.0 L202.5,353.7 L203.0,355.4 L203.5,357.0 L204.0,358.5 L204.5,360.1 L205.0,361.7 L205.5,363.3 L206.0,364.7 L206.5,365.9 L207.0,366.7 L207.5,367.3 L208.0,367.8 L208.5,368.2 L209.0,368.4 L209.5,368.3 L210.0,367.9 L210.5,367.3 L211.0,366.5 L211.5,365.7 L212.0,365.0 L212.5,364.3 L213.0,363.6 L213.5,362.8 L214.0,362.0 L214.5,361.2 L215.0,360.5 L215.5,359.7 L216.0,358.9 L216.5,358.2 L217.0,357.4 L217.5,356.7 L218.0,355.9 L218.5,355.2 L219.0,354.7 L219.5,354.3 L220.0,354.1 L220.5,353.9 L221.0,353.7 L221.5,353.5 L222.0,353.4 L222.5,353.3 L223.0,353.1 L223.5,353.0 L224.0,352.9 L224.5,352.7 L225.0,352.5 L225.5,352.4 L226.0,352.3 L226.5,352.1 L227.0,352.0 L227.5,351.8 L228.0,351.6 L228.5,351.4 L229.0,351.0 L229.5,350.6 L230.0,350.0 L230.5,349.3 L231.0,348.5 L231.5,347.6 L232.0,346.7 L232.5,345.7 L233.0,344.7 L233.5,343.5 L234.0,342.1 L234.5,340.6 L235.0,338.9 L235.5,337.1 L236.0,335.2 L236.5,333.3 L237.0,331.3 L237.5,329.1 L238.0,326.7 L238.5,324.2 L239.0,321.5 L239.5,318.8 L240.0,316.0 L240.5,313.1 L241.0,310.1 L241.5,307.0 L242.0,303.8 L242.5,300.5 L243.0,297.3 L243.5,294.1 L244.0,290.8 L244.5,287.5 L245.0,284.2 L245.5,280.8 L246.0,277.4 L246.5,273.8 L247.0,270.1 L247.5,266.2 L248.0,262.4 L248.5,258.8 L249.0,255.4 L249.5,252.2 L250.0,249.0 L250.5,246.3 L251.0,244.5 L251.5,243.3 L252.0,242.3 L252.5,241.8 L253.0,241.8 L253.5,242.5 L254.0,243.5 L254.5,244.8 L255.0,246.4 L255.5,248.3 L256.0,250.3 L256.5,252.6 L257.0,255.0 L257.5,257.5 L258.0,259.9 L258.5,262.3 L259.0,264.6 L259.5,266.9 L260.0,269.2 L260.5,271.5 L261.0,273.8 L261.5,276.0 L262.0,278.2 L262.5,280.4 L263.0,282.5 L263.5,284.5 L264.0,286.6 L264.5,288.6 L265.0,290.6 L265.5,292.5 L266.0,294.5 L266.5,296.5 L267.0,298.5 L267.5,300.4 L268.0,302.4 L268.5,304.3 L269.0,306.3 L269.5,308.4 L270.0,310.5 L270.5,312.8 L271.0,315.2 L271.5,317.7 L272.0,320.2 L272.5,322.7 L273.0,325.1 L273.5,327.5 L274.0,329.9 L274.5,332.3 L275.0,334.6 L275.5,336.9 L276.0,339.2 L276.5,341.3 L277.0,343.3 L277.5,345.2 L278.0,347.2 L278.5,349.1 L279.0,350.9 L279.5,352.6 L280.0,354.2 L280.5,355.7 L281.0,356.9 L281.5,357.9 L282.0,358.8 L282.5,359.8 L283.0,360.6 L283.5,361.3 L284.0,361.8 L284.5,362.1 L285.0,362.2 L285.5,361.8 L286.0,361.2 L286.5,360.4 L287.0,359.6 L287.5,358.9 L288.0,358.2 L288.5,357.4 L289.0,356.6 L289.5,355.8 L290.0,355.1 L290.5,354.5 L291.0,354.0 L291.5,353.5 L292.0,353.0 L292.5,352.6 L293.0,352.2 L293.5,351.8 L294.0,351.6 L294.5,351.4 L295.0,351.2 L295.5,351.1 L296.0,351.1 L296.5,351.0 L297.0,351.0 L297.5,350.9 L298.0,350.9 L298.5,350.8 L299.0,350.6 L299.5,350.3 L300.0,349.9 L300.5,349.4 L301.0,348.7 L301.5,348.1 L302.0,347.4 L302.5,346.7 L303.0,346.1 L303.5,345.5 L304.0,344.9 L304.5,344.3 L305.0,343.7 L305.5,343.0 L306.0,342.4 L306.5,341.6 L307.0,340.9 L307.5,340.1 L308.0,339.2 L308.5,338.2 L309.0,337.1 L309.5,335.8 L310.0,334.5 L310.5,333.0 L311.0,331.5 L311.5,329.9 L312.0,328.3 L312.5,326.6 L313.0,324.8 L313.5,322.9 L314.0,320.9 L314.5,318.8 L315.0,316.6 L315.5,314.4 L316.0,311.9 L316.5,309.3 L317.0,306.6 L317.5,303.9 L318.0,301.3 L318.5,298.6 L319.0,295.7 L319.5,292.5 L320.0,288.8 L320.5,284.7 L321.0,280.3 L321.5,275.8 L322.0,271.0 L322.5,266.1 L323.0,261.0 L323.5,256.2 L324.0,251.0 L324.5,245.8 L325.0,242.1 L325.5,240.3 L326.0,238.9 L326.5,238.0 L327.0,237.6 L327.5,237.9 L328.0,238.5 L328.5,239.4 L329.0,240.4 L329.5,241.7 L330.0,243.4 L330.5,245.2 L331.0,247.0 L331.5,249.2 L332.0,251.5 L332.5,253.9 L333.0,256.4 L333.5,258.8 L334.0,261.3 L334.5,263.8 L335.0,266.3 L335.5,268.9 L336.0,271.5 L336.5,274.1 L337.0,276.6 L337.5,279.0 L338.0,281.2 L338.5,283.4 L339.0,285.5 L339.5,287.5 L340.0,289.5 L340.5,291.4 L341.0,293.4 L341.5,295.3 L342.0,297.3 L342.5,299.3 L343.0,301.4 L343.5,303.4 L344.0,305.4 L344.5,307.4 L345.0,309.3 L345.5,311.2 L346.0,312.9 L346.5,314.7 L347.0,316.5 L347.5,318.5 L348.0,320.7 L348.5,323.1 L349.0,325.5 L349.5,327.9 L350.0,330.3 L350.5,332.6 L351.0,334.7 L351.5,336.7 L352.0,338.5 L352.5,340.3 L353.0,342.0 L353.5,343.6 L354.0,345.2 L354.5,346.7 L355.0,348.1 L355.5,349.5 L356.0,350.8 L356.5,352.2 L357.0,353.5 L357.5,354.7 L358.0,355.7 L358.5,356.4 L359.0,357.0 L359.5,357.6 L360.0,357.9 L360.5,358.1 L361.0,357.9 L361.5,357.2 L362.0,356.1 L362.5,354.7" stroke="#be2228"/>
<path d="M72.5,293.6 H359.5" stroke="#be2228" stroke-dasharray="11.1 2.8 1.74 2.8"/>
</g>
<g fill="none" stroke="#8c8c8c" stroke-width="1">
<rect x="72.5" y="10.3" width="290.5" height="175.2"/>
<rect x="72.5" y="220.6" width="290.5" height="175.20000000000002"/>
</g>
<g fill="none" stroke="#666" stroke-width="0.9">
<path d="M68.5,10.3 H72.5"/>
<path d="M363.0,10.3 H367.0"/>
<path d="M68.5,39.5 H72.5"/>
<path d="M363.0,39.5 H367.0"/>
<path d="M68.5,68.7 H72.5"/>
<path d="M363.0,68.7 H367.0"/>
<path d="M68.5,97.9 H72.5"/>
<path d="M363.0,97.9 H367.0"/>
<path d="M68.5,127.1 H72.5"/>
<path d="M363.0,127.1 H367.0"/>
<path d="M68.5,156.3 H72.5"/>
<path d="M363.0,156.3 H367.0"/>
<path d="M68.5,185.5 H72.5"/>
<path d="M363.0,185.5 H367.0"/>
<path d="M72.5,185.5 V189.8"/>
<path d="M108.8,185.5 V189.8"/>
<path d="M145.1,185.5 V189.8"/>
<path d="M181.4,185.5 V189.8"/>
<path d="M217.8,185.5 V189.8"/>
<path d="M254.1,185.5 V189.8"/>
<path d="M290.4,185.5 V189.8"/>
<path d="M326.7,185.5 V189.8"/>
<path d="M363.0,185.5 V189.8"/>
<path d="M68.5,220.6 H72.5"/>
<path d="M363.0,220.6 H367.0"/>
<path d="M68.5,249.8 H72.5"/>
<path d="M363.0,249.8 H367.0"/>
<path d="M68.5,279.0 H72.5"/>
<path d="M363.0,279.0 H367.0"/>
<path d="M68.5,308.2 H72.5"/>
<path d="M363.0,308.2 H367.0"/>
<path d="M68.5,337.4 H72.5"/>
<path d="M363.0,337.4 H367.0"/>
<path d="M68.5,366.6 H72.5"/>
<path d="M363.0,366.6 H367.0"/>
<path d="M68.5,395.8 H72.5"/>
<path d="M363.0,395.8 H367.0"/>
<path d="M72.5,395.8 V400.1"/>
<path d="M108.8,395.8 V400.1"/>
<path d="M145.1,395.8 V400.1"/>
<path d="M181.4,395.8 V400.1"/>
<path d="M217.8,395.8 V400.1"/>
<path d="M254.1,395.8 V400.1"/>
<path d="M290.4,395.8 V400.1"/>
<path d="M326.7,395.8 V400.1"/>
<path d="M363.0,395.8 V400.1"/>
</g>
<text x="66.6" y="14.2" text-anchor="end">2.0</text>
<text x="369.0" y="14.2">3</text>
<text x="66.6" y="43.4" text-anchor="end">1.5</text>
<text x="369.0" y="43.4">2</text>
<text x="66.6" y="72.6" text-anchor="end">1.0</text>
<text x="369.0" y="72.6">1</text>
<text x="66.6" y="101.8" text-anchor="end">0.5</text>
<text x="369.0" y="101.8">0</text>
<text x="66.6" y="131.0" text-anchor="end">0.0</text>
<text x="369.0" y="131.0">-1</text>
<text x="66.6" y="160.2" text-anchor="end">-0.5</text>
<text x="369.0" y="160.2">-2</text>
<text x="66.6" y="189.4" text-anchor="end">-1.0</text>
<text x="369.0" y="189.4">-3</text>
<text x="66.6" y="224.5" text-anchor="end">1.0</text>
<text x="369.0" y="224.5">3</text>
<text x="66.6" y="253.7" text-anchor="end">0.5</text>
<text x="369.0" y="253.7">2</text>
<text x="66.6" y="282.9" text-anchor="end">0.0</text>
<text x="369.0" y="282.9">1</text>
<text x="66.6" y="312.1" text-anchor="end">-0.5</text>
<text x="369.0" y="312.1">0</text>
<text x="66.6" y="341.3" text-anchor="end">-1.0</text>
<text x="369.0" y="341.3">-1</text>
<text x="66.6" y="370.5" text-anchor="end">-1.5</text>
<text x="369.0" y="370.5">-2</text>
<text x="66.6" y="399.7" text-anchor="end">-2.0</text>
<text x="369.0" y="399.7">-3</text>
<text transform="translate(71.3,406.8) rotate(-45)" text-anchor="end">2019-01-02 18:00</text>
<text transform="translate(107.6,406.8) rotate(-45)" text-anchor="end">2019-01-03 00:00</text>
<text transform="translate(143.9,406.8) rotate(-45)" text-anchor="end">2019-01-03 06:00</text>
<text transform="translate(180.2,406.8) rotate(-45)" text-anchor="end">2019-01-03 12:00</text>
<text transform="translate(216.6,406.8) rotate(-45)" text-anchor="end">2019-01-03 18:00</text>
<text transform="translate(252.9,406.8) rotate(-45)" text-anchor="end">2019-01-04 00:00</text>
<text transform="translate(289.2,406.8) rotate(-45)" text-anchor="end">2019-01-04 06:00</text>
<text transform="translate(325.5,406.8) rotate(-45)" text-anchor="end">2019-01-04 12:00</text>
<text transform="translate(361.8,406.8) rotate(-45)" text-anchor="end">2019-01-04 18:00</text>
<text x="217.8" y="478.5" text-anchor="middle">Date</text>
<text transform="translate(44.9,97.9) rotate(-90)" text-anchor="middle">Net UKC [m]</text>
<text transform="translate(387.6,97.9) rotate(-90)" text-anchor="middle">Current velocity [kn]</text>
<text transform="translate(44.9,308.2) rotate(-90)" text-anchor="middle">Net UKC [m]</text>
<text transform="translate(387.6,308.2) rotate(-90)" text-anchor="middle">Current velocity [kn]</text>
<text x="79.7" y="24" font-weight="bold" font-size="11" fill="#000">a)</text>
<text x="79.7" y="234.3" font-weight="bold" font-size="11" fill="#000">b)</text>
<g fill="none" stroke-width="1.8">
<path d="M413.5,12.1 H429.2" stroke="#1f77b4" stroke-linecap="square"/>
<path d="M413.5,23.5 H429.2" stroke="#1f77b4" stroke-dasharray="6.4 2.8"/>
<path d="M413.5,34.9 H429.2" stroke="#be2228" stroke-linecap="square"/>
<path d="M413.5,46.3 H429.2" stroke="#be2228" stroke-dasharray="6.4 2.8"/>
<path d="M413.5,63.0 H429.2" stroke="#be2228" stroke-dasharray="11.1 2.8 1.74 2.8"/>
</g>
<rect x="413.5" y="75.5" width="15.699999999999989" height="5.6" fill="#c5dbed"/>
<rect x="413.5" y="86.8" width="15.699999999999989" height="5.6" fill="#ecc8c8"/>
<rect x="413.5" y="98.10000000000001" width="15.699999999999989" height="5.6" fill="#c9f0ca"/>
<g font-size="7.8">
<text x="435.6" y="15.0">Net UKC</text>
<text x="435.6" y="26.4">Required net UKC</text>
<text x="435.6" y="37.8">Current velocity</text>
<text x="435.6" y="49.2">Critical current velocity</text>
<text x="435.6" y="60.7">Point-based current velocity</text>
<text x="435.6" y="69.1">(flood and decreasing)</text>
<text x="435.6" y="81.2">Vertical tidal windows</text>
<text x="435.6" y="92.5">Horizontal tidal windows</text>
<text x="435.6" y="103.8">Resulting tidal windows</text>
</g>
</svg>
</body></html>
